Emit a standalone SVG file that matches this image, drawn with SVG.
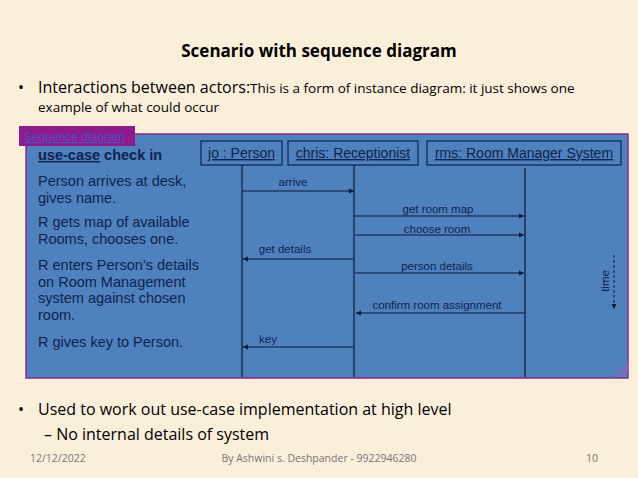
<svg xmlns="http://www.w3.org/2000/svg" width="638" height="478" viewBox="0 0 638 478">
<defs>
<marker id="ah" markerWidth="6" markerHeight="6" refX="5" refY="3" orient="auto" markerUnits="userSpaceOnUse"><path d="M0,0.5 L5,3 L0,5.5 Z" fill="#0a1a3a"/></marker>
<style>
.t{font-family:"Open Sans","Liberation Sans",sans-serif;fill:#000}
.d{font-family:"Liberation Sans",Arial,sans-serif;fill:#0d2350}
.b{fill:none;stroke:#0d2350;stroke-width:1.2}
.m{stroke:#0a1a3a;stroke-width:1.2;fill:none;marker-end:url(#ah)}
.l{stroke:#0a1a3a;stroke-width:1.2}
</style>
</defs>
<rect width="638" height="478" fill="#fbeedb"/>
<text class="t" x="319" y="57" font-size="17" font-weight="bold" text-anchor="middle">Scenario with sequence diagram</text>
<text class="t" x="18" y="93" font-size="16">•</text>
<text class="t" x="38" y="93" font-size="16">Interactions between actors:<tspan font-size="13.5">This is a form of instance diagram: it just shows one</tspan></text>
<text class="t" x="38" y="112" font-size="13.5">example of what could occur</text>
<g id="frame">
<rect x="26" y="134" width="602" height="244" fill="#4f81bd" stroke="#8b2a8b" stroke-width="1.5"/>
<path d="M628,362 L612,378 L628,372 Z" fill="#7c6cc0"/>
<rect x="19" y="126" width="116" height="20" fill="#8e1b8e"/>
<text class="d" x="24" y="141" font-size="12" fill="#4a4ab8" text-decoration="underline" style="fill:#5050c0">Sequence diagram</text>
</g>
<g id="usecase" class="d" font-size="14.5">
<text x="38" y="160" font-weight="bold"><tspan text-decoration="underline">use-case</tspan> check in</text>
<text x="38" y="186">Person arrives at desk,</text>
<text x="38" y="203">gives name.</text>
<text x="38" y="227">R gets map of available</text>
<text x="38" y="244">Rooms, chooses one.</text>
<text x="38" y="270">R enters Person’s details</text>
<text x="38" y="287">on Room Management</text>
<text x="38" y="303">system against chosen</text>
<text x="38" y="320">room.</text>
<text x="38" y="347">R gives key to Person.</text>
</g>
<g id="jo"><rect class="b" x="201" y="141" width="81" height="24"/><text class="d" x="241.5" y="158" font-size="14" text-anchor="middle" text-decoration="underline">jo : Person</text></g>
<g id="chris"><rect class="b" x="288" y="141" width="130" height="24"/><text class="d" x="353" y="158" font-size="14" text-anchor="middle" text-decoration="underline">chris: Receptionist</text></g>
<g id="rms"><rect class="b" x="427" y="141" width="194" height="24"/><text class="d" x="524" y="158" font-size="14" text-anchor="middle" text-decoration="underline">rms: Room Manager System</text></g>
<g id="connectors">
<line class="l" x1="242" y1="165" x2="242" y2="377"/>
<line class="l" x1="354" y1="165" x2="354" y2="377"/>
<line class="l" x1="525" y1="168" x2="525" y2="377"/>
<line class="m" x1="242" y1="191" x2="354" y2="191"/>
<line class="m" x1="355" y1="216" x2="524" y2="216"/>
<line class="m" x1="355" y1="235" x2="524" y2="235"/>
<line class="m" x1="354" y1="259" x2="243" y2="259"/>
<line class="m" x1="355" y1="273" x2="524" y2="273"/>
<line class="m" x1="525" y1="313" x2="356" y2="313"/>
<line class="m" x1="354" y1="347" x2="243" y2="347"/>
<line x1="614" y1="255" x2="614" y2="309" stroke="#0a1a3a" stroke-width="1" stroke-dasharray="3,2" marker-end="url(#ah)"/>
</g>
<g id="labels" class="d" font-size="11.5" text-anchor="middle">
<text x="293" y="186">arrive</text>
<text x="438" y="213">get room map</text>
<text x="437" y="233">choose room</text>
<text x="285" y="253">get details</text>
<text x="437" y="270">person details</text>
<text x="437" y="309">confirm room assignment</text>
<text x="268" y="343">key</text>
<text x="0" y="0" transform="translate(609,281) rotate(-90)">time</text>
</g>
<text class="t" x="18" y="415" font-size="16">•</text>
<text class="t" x="38" y="415" font-size="16">Used to work out use-case implementation at high level</text>
<text class="t" x="44" y="440" font-size="16">– No internal details of system</text>
<text class="t" x="30" y="462" font-size="10.5" fill="#666" style="fill:#777">12/12/2022</text>
<text class="t" x="319" y="462" font-size="10.5" text-anchor="middle" style="fill:#777">By Ashwini s. Deshpander - 9922946280</text>
<text class="t" x="598" y="462" font-size="10.5" text-anchor="end" style="fill:#777">10</text>
</svg>
